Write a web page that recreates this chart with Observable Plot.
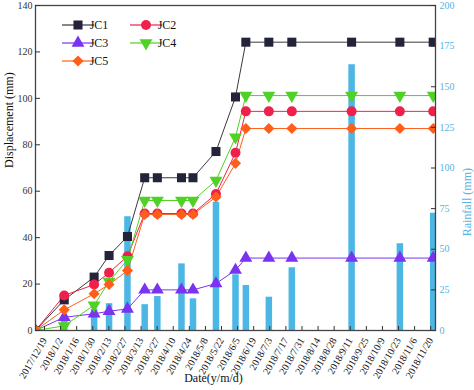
<!DOCTYPE html>
<html><head><meta charset="utf-8">
<script src="https://cdn.jsdelivr.net/npm/d3@7"></script>
<script src="https://cdn.jsdelivr.net/npm/@observablehq/plot@0.6"></script>
<style>body{margin:0;background:#fff}#chart{width:474px;height:390px}</style>
</head><body><div id="chart"></div>
<script>
// ---- data ----
const dates = ["2017-12-19","2018-01-13","2018-02-08","2018-02-21","2018-03-09","2018-03-24","2018-04-04","2018-04-25","2018-05-05","2018-05-25","2018-06-11","2018-06-20","2018-07-10","2018-07-30","2018-09-20","2018-11-01","2018-11-30"];
const jc1 = [0,13.2,23.0,32.3,40.5,65.8,65.8,65.8,65.8,77.1,100.6,124.2,124.2,124.2,124.2,124.2,124.2];
const jc2 = [0,15.1,19.8,24.9,32.0,50.4,50.4,50.4,50.4,58.8,76.6,94.4,94.4,94.4,94.4,94.4,94.4];
const jc3 = [0,5.7,7.2,8.3,9.3,17.5,17.5,17.5,17.5,20.2,26.0,31.2,31.2,31.2,31.2,31.2,31.2];
const jc4 = [0,2.0,10.9,21.1,30.5,56.0,56.0,56.0,56.0,64.6,83.3,101.2,101.2,101.2,101.2,101.2,101.2];
const jc5 = [0,8.9,15.8,19.8,25.8,50.0,50.0,50.0,50.0,57.5,72.0,87.0,87.0,87.0,87.0,87.0,87.0];
const rainfall = [null,9,13,16.5,70,15.9,20.9,41,19.5,79,34.3,27.7,20.5,38.6,163.5,53.4,72.2];
const seriesNames = ["JC1","JC2","JC3","JC4","JC5"];
const xTickLabels = ["2017/12/19","2018/1/2","2018/1/16","2018/1/30","2018/2/13","2018/2/27","2018/3/13","2018/3/27","2018/4/10","2018/4/24","2018/5/8","2018/5/22","2018/6/5","2018/6/19","2018/7/3","2018/7/17","2018/7/31","2018/8/14","2018/8/28","2018/9/11","2018/9/25","2018/10/9","2018/10/23","2018/11/6","2018/11/20"];
const leftTicks = [0,20,40,60,80,100,120,140];
const rightTicks = [0,25,50,75,100,125,150,175,200];

// ---- styling ----
const colors = {JC1:"#23233a", JC2:"#f0204c", JC3:"#7a33f0", JC4:"#50d126", JC5:"#ff5e1a"};
const lineColors = {JC1:"#3a3a3a", JC2:"#f0204c", JC3:"#7a33f0", JC4:"#50d126", JC5:"#ff5e1a"};
const triDown = {draw(ctx, size){const y=Math.sqrt(size/(3*Math.sqrt(3)));ctx.moveTo(0,2*y);ctx.lineTo(-Math.sqrt(3)*y,-y);ctx.lineTo(Math.sqrt(3)*y,-y);ctx.closePath();}};
const symbols = {JC1:"square", JC2:"circle", JC3:"triangle", JC4:triDown, JC5:"diamond2"};
const radii = {JC1:5.1, JC2:5.0, JC3:4.8, JC4:4.8, JC5:5.0};
const rainColor = "#4cb6e4";
const rainText = "#56b4e0";

const parse = d3.utcParse("%Y-%m-%d");
const tickParse = d3.utcParse("%Y/%m/%d");
const xTicks = xTickLabels.map(s => tickParse(s));
const labelOf = new Map(xTicks.map((d,i)=>[+d, xTickLabels[i]]));
const k = 140/200; // rainfall -> displacement scale factor

const vals = {JC1:jc1, JC2:jc2, JC3:jc3, JC4:jc4, JC5:jc5};
const rows = [];
seriesNames.forEach(s => dates.forEach((d,i)=>rows.push({series:s, date:parse(d), value:vals[s][i]})));
const rainRows = dates.map((d,i)=>({date:parse(d), rain:rainfall[i]})).filter(d=>d.rain!=null);

const marks = [
  Plot.ruleX(rainRows, {x:"date", y1:0, y2:d=>d.rain*k, stroke:rainColor, strokeWidth:6.5, strokeLinecap:"butt", clip:true})
];
seriesNames.forEach(s=>{
  const data = rows.filter(r=>r.series===s);
  marks.push(Plot.line(data, {x:"date", y:"value", stroke:lineColors[s], strokeWidth:1, clip:true}));
});
seriesNames.forEach(s=>{
  const data = rows.filter(r=>r.series===s);
  marks.push(Plot.dot(data, {x:"date", y:"value", symbol:()=>symbols[s], r:radii[s], fill:colors[s], stroke:"none", clip:true}));
});

const font = "Liberation Serif";
marks.push(
  Plot.frame({stroke:"#444", strokeWidth:1.3}),
  Plot.axisX({ticks:xTicks, tickFormat:d=>labelOf.get(+d), tickRotate:-60, tickSize:-4, tickPadding:12, dx:9, fontSize:10, label:null, stroke:"#333"}),
  Plot.axisY({anchor:"left", ticks:leftTicks, tickSize:-5, tickPadding:8, fontSize:10, label:null, stroke:"#333", fill:"#333"}),
  Plot.axisY({anchor:"right", ticks:rightTicks.map(r=>r*k), tickFormat:d=>String(Math.round(d/k)), tickSize:-5, tickPadding:9, fontSize:10, label:null, stroke:"#333", fill:rainText}),
  Plot.text(["Displacement (mm)"], {frameAnchor:"left", rotate:-90, dx:-26, fontSize:12, fill:"#111"}),
  Plot.text(["Rainfall (mm)"], {frameAnchor:"right", rotate:-90, dx:32, fontSize:12, fill:rainText}),
  Plot.text(["Date(y/m/d)"], {frameAnchor:"bottom", dx:-22, dy:51, fontSize:12, fill:"#111"})
);

const svg = Plot.plot({
  width:474, height:390,
  marginLeft:35, marginRight:39, marginTop:5, marginBottom:60,
  style:{fontFamily:font, fontSize:"10px", background:"#fff", color:"#111"},
  x:{type:"utc", domain:[parse("2017-12-19"), parse("2018-12-02")]},
  y:{domain:[0,140]},
  marks
});

// ---- legend (inside plot, top-left) ----
const lg = d3.select(svg).append("g").attr("font-family", font).attr("font-size", 12);
const legendPos = {JC1:[62,25], JC2:[130,25], JC3:[62,43], JC4:[130,43], JC5:[62,61]};
seriesNames.forEach(s=>{
  const [x0,y0] = legendPos[s];
  const g = lg.append("g").attr("transform", `translate(${x0},${y0})`);
  g.append("line").attr("x1",0).attr("x2",32).attr("y1",0).attr("y2",0).attr("stroke",lineColors[s]).attr("stroke-width",1.2);
  const symType = typeof symbols[s] === "string" ? {square:d3.symbolSquare, circle:d3.symbolCircle, triangle:d3.symbolTriangle, diamond2:d3.symbolDiamond2}[symbols[s]] : symbols[s];
  g.append("path").attr("transform","translate(16,0)").attr("d", d3.symbol(symType, Math.PI*radii[s]*radii[s])()).attr("fill", colors[s]);
  g.append("text").attr("x",37).attr("y",0).attr("dy","0.35em").attr("fill","#111").text(s);
});

document.getElementById("chart").appendChild(svg);
</script>
</body></html>
